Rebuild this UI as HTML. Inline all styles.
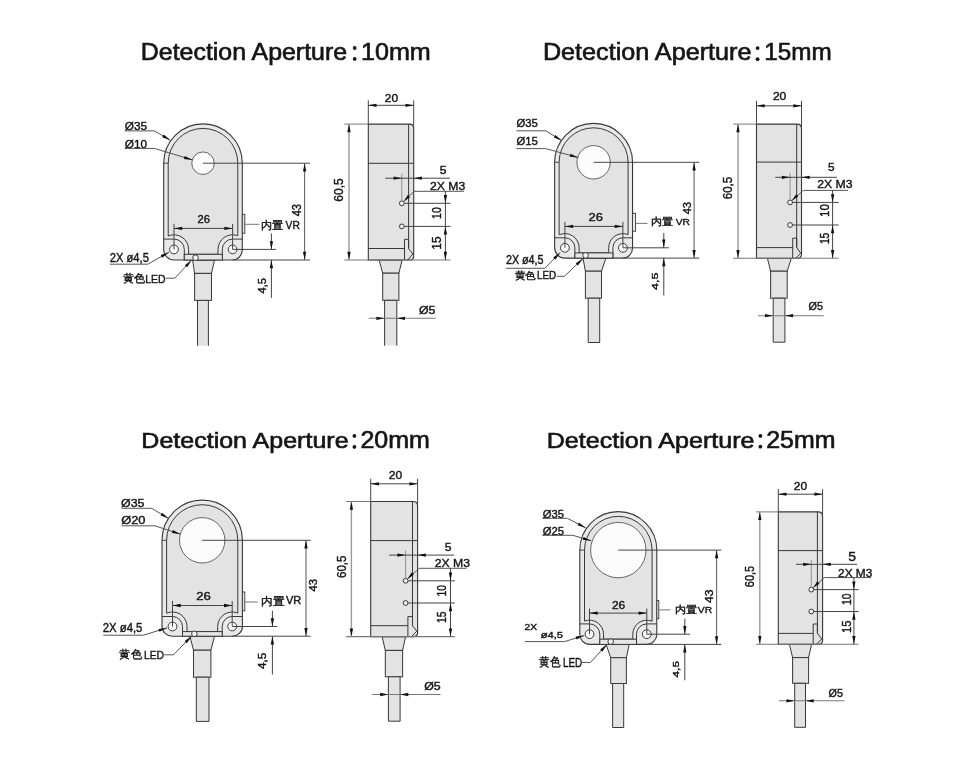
<!DOCTYPE html><html><head><meta charset="utf-8"><style>html,body{margin:0;padding:0;background:#fff;}svg{display:block;font-family:"Liberation Sans",sans-serif;will-change:transform;}</style></head><body>
<svg width="974" height="767" viewBox="0 0 974 767">
<rect width="974" height="767" fill="#fff"/>
<path d="M192.6,260.0 L194.6,273.4 L211.5,273.4 L214.5,260.0 Z" fill="#e3e3e3" stroke="#383838" stroke-width="1"/>
<rect x="194.6" y="273.4" width="16.90" height="27.00" fill="#e3e3e3" stroke="#383838" stroke-width="1"/>
<path d="M197.5,345.8 L197.5,300.4 L208.4,300.4 L208.4,345.8" fill="#e3e3e3" stroke="#383838" stroke-width="1"/>
<path d="M163.7,163.2 A39.3,39.3 0 0 1 242.3,163.2 L242.3,249.4 A9.70,10.60 0 0 1 232.6,260.0 L174.0,260.0 A10.30,10.60 0 0 1 163.7,249.4 Z" fill="#e9e9e9" stroke="#383838" stroke-width="1.1"/>
<path d="M168.2,163.2 A34.8,34.8 0 0 1 237.8,163.2 L237.8,235.76 A14.6,14.6 0 0 0 218.00,249.4 L218.00,254.3 L188.60,254.3 L188.60,249.4 A14.6,14.6 0 0 0 168.2,236.00 Z" fill="#e3e3e3" stroke="#383838" stroke-width="1"/>
<line x1="163.70" y1="239.10" x2="174.00" y2="239.10" stroke="#383838" stroke-width="1"/>
<line x1="232.60" y1="239.10" x2="242.30" y2="239.10" stroke="#383838" stroke-width="1"/>
<path d="M174.0,239.10 A10.3,10.3 0 0 1 184.30,249.4 L184.30,260.0" fill="none" stroke="#383838" stroke-width="1"/>
<path d="M232.6,239.10 A10.3,10.3 0 0 0 222.30,249.4 L222.30,260.0" fill="none" stroke="#383838" stroke-width="1"/>
<rect x="184.30" y="254.3" width="38.00" height="5.70" fill="#e6e6e6" stroke="#383838" stroke-width="1"/>
<circle cx="195.5" cy="257.7" r="2.8" fill="#f6f6f6" stroke="#383838" stroke-width="1"/>
<circle cx="203.0" cy="163.2" r="11.25" fill="#fcfcfc" stroke="#666" stroke-width="1"/>
<circle cx="174.0" cy="249.4" r="4.4" fill="#fbfbfb" stroke="#383838" stroke-width="1"/>
<circle cx="232.6" cy="249.4" r="4.4" fill="#fbfbfb" stroke="#383838" stroke-width="1"/>
<rect x="242.30" y="214.3" width="2.50" height="19.00" fill="#e8e8e8" stroke="#383838" stroke-width="0.9"/>
<line x1="174.00" y1="223.90" x2="174.00" y2="249.40" stroke="#444444" stroke-width="1.0"/>
<line x1="232.60" y1="223.90" x2="232.60" y2="249.40" stroke="#444444" stroke-width="1.0"/>
<line x1="174.00" y1="228.40" x2="232.60" y2="228.40" stroke="#444444" stroke-width="1.0"/>
<path d="M174.00,228.40 L182.20,226.75 L182.20,230.05 Z" fill="#111"/>
<path d="M232.60,228.40 L224.40,230.05 L224.40,226.75 Z" fill="#111"/>
<line x1="203.00" y1="163.20" x2="310.00" y2="163.20" stroke="#333" stroke-width="0.9"/>
<line x1="163.70" y1="163.20" x2="168.20" y2="163.20" stroke="#383838" stroke-width="0.9"/>
<line x1="232.60" y1="260.00" x2="310.00" y2="260.00" stroke="#444444" stroke-width="1.0"/>
<line x1="304.60" y1="163.20" x2="304.60" y2="260.00" stroke="#666" stroke-width="1.1"/>
<path d="M304.60,163.20 L306.25,171.40 L302.95,171.40 Z" fill="#111"/>
<path d="M304.60,260.00 L302.95,251.80 L306.25,251.80 Z" fill="#111"/>
<line x1="232.60" y1="249.40" x2="276.00" y2="249.40" stroke="#444444" stroke-width="1.0"/>
<line x1="271.40" y1="233.50" x2="271.40" y2="249.40" stroke="#444444" stroke-width="1.0"/>
<path d="M271.40,249.40 L269.75,241.20 L273.05,241.20 Z" fill="#111"/>
<line x1="271.40" y1="260.00" x2="271.40" y2="297.90" stroke="#444444" stroke-width="1.0"/>
<path d="M271.40,260.00 L273.05,268.20 L269.75,268.20 Z" fill="#111"/>
<line x1="244.80" y1="224.30" x2="259.30" y2="224.30" stroke="#777" stroke-width="1"/>
<polyline points="124.70,130.90 154.30,130.90 170.30,140.20" fill="none" stroke="#555" stroke-width="1"/>
<path d="M170.30,140.20 L162.17,137.27 L163.73,134.59 Z" fill="#111"/>
<polyline points="124.70,148.40 154.30,148.40 192.50,159.90" fill="none" stroke="#555" stroke-width="1"/>
<path d="M192.50,159.90 L183.91,158.93 L184.81,155.97 Z" fill="#111"/>
<polyline points="109.90,264.20 147.90,264.20 168.90,252.20" fill="none" stroke="#555" stroke-width="1"/>
<path d="M168.90,252.20 L162.29,257.76 L160.75,255.07 Z" fill="#111"/>
<polyline points="166.00,278.20 174.80,278.20 191.80,260.00" fill="none" stroke="#555" stroke-width="1"/>
<path d="M191.80,260.00 L187.13,267.27 L184.87,265.15 Z" fill="#111"/>
<path d="M379.1,260.0 L382.7,273.2 L398.9,273.2 L402.1,260.0 Z" fill="#e3e3e3" stroke="#383838" stroke-width="1"/>
<rect x="382.7" y="273.2" width="16.20" height="27.10" fill="#e3e3e3" stroke="#383838" stroke-width="1"/>
<path d="M384.6,345.6 L384.6,300.3 L396.8,300.3 L396.8,345.6" fill="#e3e3e3" stroke="#383838" stroke-width="1"/>
<path d="M368.3,124.1 L409.2,124.1 Q413.7,124.1 413.7,128.6 L413.7,256.0 Q413.7,260.0 409.7,260.0 L368.3,260.0 Z" fill="#e3e3e3" stroke="#383838" stroke-width="1.1"/>
<line x1="368.30" y1="163.30" x2="413.70" y2="163.30" stroke="#383838" stroke-width="1"/>
<line x1="408.60" y1="124.10" x2="408.60" y2="248.50" stroke="#383838" stroke-width="1"/>
<line x1="368.30" y1="248.50" x2="404.50" y2="248.50" stroke="#383838" stroke-width="1"/>
<path d="M404.5,260.0 L404.5,239.3 L408.6,239.3 L408.6,248.5 L412.90,254.00 L407.60,260.0" fill="none" stroke="#383838" stroke-width="1"/>
<circle cx="401.8" cy="203.3" r="2.4" fill="#f2f2f2" stroke="#383838" stroke-width="1"/>
<circle cx="401.8" cy="226.4" r="2.4" fill="#f2f2f2" stroke="#383838" stroke-width="1"/>
<line x1="401.80" y1="173.70" x2="401.80" y2="200.80" stroke="#888" stroke-width="0.9"/>
<line x1="368.30" y1="100.30" x2="368.30" y2="124.10" stroke="#444444" stroke-width="1.0"/>
<line x1="413.70" y1="100.30" x2="413.70" y2="127.10" stroke="#444444" stroke-width="1.0"/>
<line x1="368.30" y1="105.30" x2="413.70" y2="105.30" stroke="#444444" stroke-width="1.0"/>
<path d="M368.30,105.30 L376.50,103.65 L376.50,106.95 Z" fill="#111"/>
<path d="M413.70,105.30 L405.50,106.95 L405.50,103.65 Z" fill="#111"/>
<line x1="344.20" y1="124.10" x2="368.30" y2="124.10" stroke="#777" stroke-width="1"/>
<line x1="344.20" y1="260.00" x2="450.50" y2="260.00" stroke="#777" stroke-width="1.1"/>
<line x1="349.00" y1="124.10" x2="349.00" y2="260.00" stroke="#999" stroke-width="1.4"/>
<path d="M349.00,124.10 L350.65,132.30 L347.35,132.30 Z" fill="#111"/>
<path d="M349.00,260.00 L347.35,251.80 L350.65,251.80 Z" fill="#111"/>
<line x1="385.20" y1="178.20" x2="450.00" y2="178.20" stroke="#444444" stroke-width="1.0"/>
<path d="M401.80,178.20 L393.60,179.85 L393.60,176.55 Z" fill="#111"/>
<path d="M413.70,178.20 L421.90,176.55 L421.90,179.85 Z" fill="#111"/>
<polyline points="464.00,191.30 414.00,191.30 403.80,201.30" fill="none" stroke="#555" stroke-width="1"/>
<path d="M403.60,201.50 L407.77,195.07 L410.03,197.33 Z" fill="#111"/>
<line x1="404.30" y1="203.30" x2="450.50" y2="203.30" stroke="#444444" stroke-width="1.0"/>
<line x1="404.30" y1="226.40" x2="450.50" y2="226.40" stroke="#444444" stroke-width="1.0"/>
<line x1="445.40" y1="191.30" x2="445.40" y2="260.00" stroke="#444444" stroke-width="1.0"/>
<path d="M445.40,203.30 L443.75,195.10 L447.05,195.10 Z" fill="#111"/>
<path d="M445.40,226.40 L447.05,234.60 L443.75,234.60 Z" fill="#111"/>
<path d="M445.40,260.00 L443.75,251.80 L447.05,251.80 Z" fill="#111"/>
<line x1="368.70" y1="318.30" x2="435.60" y2="318.30" stroke="#777" stroke-width="1.1"/>
<path d="M384.60,318.30 L376.40,319.95 L376.40,316.65 Z" fill="#111"/>
<path d="M396.80,318.30 L405.00,316.65 L405.00,319.95 Z" fill="#111"/>
<circle cx="354.70" cy="48.00" r="1.9" fill="#151515"/>
<circle cx="354.70" cy="58.90" r="1.9" fill="#151515"/>
<text x="140.85" y="60.40" font-size="23.21" textLength="206.22" lengthAdjust="spacingAndGlyphs" fill="#151515" stroke="#151515" stroke-width="0.65">Detection Aperture</text>
<text x="361.00" y="60.20" font-size="23.64" textLength="69.79" lengthAdjust="spacingAndGlyphs" fill="#151515" stroke="#151515" stroke-width="0.65">10mm</text>
<text x="124.80" y="130.00" font-size="11.27" textLength="22.30" lengthAdjust="spacingAndGlyphs" fill="#151515" stroke="#151515" stroke-width="0.4">Ø35</text>
<text x="124.80" y="148.00" font-size="11.27" textLength="22.30" lengthAdjust="spacingAndGlyphs" fill="#151515" stroke="#151515" stroke-width="0.4">Ø10</text>
<text x="109.80" y="261.60" font-size="12.05" textLength="39.08" lengthAdjust="spacingAndGlyphs" fill="#151515" stroke="#151515" stroke-width="0.4">2X ø4,5</text>
<text x="122.70" y="282.00" font-size="11.43" textLength="22.31" lengthAdjust="spacingAndGlyphs" fill="#151515" stroke="#151515" stroke-width="0.4">黄色</text>
<text x="145.20" y="283.00" font-size="11.44" textLength="20.29" lengthAdjust="spacingAndGlyphs" fill="#151515" stroke="#151515" stroke-width="0.4">LED</text>
<text x="197.55" y="223.00" font-size="11.61" textLength="12.43" lengthAdjust="spacingAndGlyphs" fill="#151515" stroke="#151515" stroke-width="0.4">26</text>
<text x="261.05" y="229.00" font-size="11.40" textLength="22.30" lengthAdjust="spacingAndGlyphs" fill="#151515" stroke="#151515" stroke-width="0.4">内置</text>
<text x="285.55" y="229.00" font-size="11.34" textLength="14.33" lengthAdjust="spacingAndGlyphs" fill="#151515" stroke="#151515" stroke-width="0.4">VR</text>
<text transform="translate(301.00,216.30) rotate(-90)" x="0" y="0" font-size="12.91" textLength="12.34" lengthAdjust="spacingAndGlyphs" fill="#151515" stroke="#151515" stroke-width="0.4">43</text>
<text transform="translate(266.00,293.40) rotate(-90)" x="0" y="0" font-size="11.20" textLength="15.42" lengthAdjust="spacingAndGlyphs" fill="#151515" stroke="#151515" stroke-width="0.4">4,5</text>
<text x="384.75" y="102.00" font-size="11.65" textLength="13.31" lengthAdjust="spacingAndGlyphs" fill="#151515" stroke="#151515" stroke-width="0.4">20</text>
<text transform="translate(343.00,201.70) rotate(-90)" x="0" y="0" font-size="13.35" textLength="23.36" lengthAdjust="spacingAndGlyphs" fill="#151515" stroke="#151515" stroke-width="0.4">60,5</text>
<text x="439.80" y="174.00" font-size="10.38" textLength="6.75" lengthAdjust="spacingAndGlyphs" fill="#151515" stroke="#151515" stroke-width="0.4">5</text>
<text x="430.05" y="190.00" font-size="11.65" textLength="35.30" lengthAdjust="spacingAndGlyphs" fill="#151515" stroke="#151515" stroke-width="0.4">2X M3</text>
<text transform="translate(441.00,218.90) rotate(-90)" x="0" y="0" font-size="12.68" textLength="11.59" lengthAdjust="spacingAndGlyphs" fill="#151515" stroke="#151515" stroke-width="0.4">10</text>
<text transform="translate(441.00,249.65) rotate(-90)" x="0" y="0" font-size="12.68" textLength="13.27" lengthAdjust="spacingAndGlyphs" fill="#151515" stroke="#151515" stroke-width="0.4">15</text>
<text x="419.00" y="314.00" font-size="11.27" textLength="16.44" lengthAdjust="spacingAndGlyphs" fill="#151515" stroke="#151515" stroke-width="0.4">Ø5</text>
<path d="M583.0,258.1 L585.4,271.2 L601.5,271.2 L605.9,258.1 Z" fill="#e3e3e3" stroke="#383838" stroke-width="1"/>
<rect x="585.4" y="271.2" width="16.10" height="27.00" fill="#e3e3e3" stroke="#383838" stroke-width="1"/>
<path d="M588.2,342.5 L588.2,298.2 L599.7,298.2 L599.7,342.5 Z" fill="#e3e3e3" stroke="#383838" stroke-width="1"/>
<path d="M554.65,162.3 A38.95,38.95 0 0 1 632.5500000000001,162.3 L632.5500000000001,247.8 A9.65,10.30 0 0 1 622.9,258.1 L564.9,258.1 A10.25,10.30 0 0 1 554.65,247.8 Z" fill="#e9e9e9" stroke="#383838" stroke-width="1.1"/>
<path d="M559.1,162.3 A34.5,34.5 0 0 1 628.1,162.3 L628.1,234.59 A14.2,14.2 0 0 0 608.70,247.8 L608.70,252.9 L579.10,252.9 L579.10,247.8 A14.2,14.2 0 0 0 559.1,234.84 Z" fill="#e3e3e3" stroke="#383838" stroke-width="1"/>
<line x1="554.65" y1="237.80" x2="564.90" y2="237.80" stroke="#383838" stroke-width="1"/>
<line x1="622.90" y1="237.80" x2="632.55" y2="237.80" stroke="#383838" stroke-width="1"/>
<path d="M564.9,237.80 A10.0,10.0 0 0 1 574.90,247.8 L574.90,258.1" fill="none" stroke="#383838" stroke-width="1"/>
<path d="M622.9,237.80 A10.0,10.0 0 0 0 612.90,247.8 L612.90,258.1" fill="none" stroke="#383838" stroke-width="1"/>
<rect x="574.90" y="252.9" width="38.00" height="5.20" fill="#e6e6e6" stroke="#383838" stroke-width="1"/>
<circle cx="585.6" cy="255.4" r="2.8" fill="#f6f6f6" stroke="#383838" stroke-width="1"/>
<circle cx="593.6" cy="162.3" r="16.7" fill="#fcfcfc" stroke="#666" stroke-width="1"/>
<circle cx="564.9" cy="247.8" r="4.4" fill="#fbfbfb" stroke="#383838" stroke-width="1"/>
<circle cx="622.9" cy="247.8" r="4.4" fill="#fbfbfb" stroke="#383838" stroke-width="1"/>
<rect x="632.55" y="213.3" width="3.05" height="17.90" fill="#e8e8e8" stroke="#383838" stroke-width="0.9"/>
<line x1="564.90" y1="221.90" x2="564.90" y2="247.80" stroke="#444444" stroke-width="1.0"/>
<line x1="622.90" y1="221.90" x2="622.90" y2="247.80" stroke="#444444" stroke-width="1.0"/>
<line x1="564.90" y1="226.40" x2="622.90" y2="226.40" stroke="#444444" stroke-width="1.0"/>
<path d="M564.90,226.40 L573.10,224.75 L573.10,228.05 Z" fill="#111"/>
<path d="M622.90,226.40 L614.70,228.05 L614.70,224.75 Z" fill="#111"/>
<line x1="593.60" y1="162.30" x2="699.30" y2="162.30" stroke="#333" stroke-width="0.9"/>
<line x1="554.65" y1="162.30" x2="559.10" y2="162.30" stroke="#383838" stroke-width="0.9"/>
<line x1="622.90" y1="258.10" x2="699.30" y2="258.10" stroke="#444444" stroke-width="1.0"/>
<line x1="694.10" y1="162.30" x2="694.10" y2="258.10" stroke="#666" stroke-width="1.1"/>
<path d="M694.10,162.30 L695.75,170.50 L692.45,170.50 Z" fill="#111"/>
<path d="M694.10,258.10 L692.45,249.90 L695.75,249.90 Z" fill="#111"/>
<line x1="622.90" y1="247.80" x2="669.00" y2="247.80" stroke="#444444" stroke-width="1.0"/>
<line x1="663.80" y1="232.90" x2="663.80" y2="247.80" stroke="#444444" stroke-width="1.0"/>
<path d="M663.80,247.80 L662.15,239.60 L665.45,239.60 Z" fill="#111"/>
<line x1="663.80" y1="258.10" x2="663.80" y2="295.50" stroke="#444444" stroke-width="1.0"/>
<path d="M663.80,258.10 L665.45,266.30 L662.15,266.30 Z" fill="#111"/>
<line x1="635.60" y1="223.40" x2="647.50" y2="223.40" stroke="#777" stroke-width="1"/>
<polyline points="516.40,130.80 545.80,130.80 561.90,140.70" fill="none" stroke="#555" stroke-width="1"/>
<path d="M561.90,140.70 L553.85,137.57 L555.47,134.93 Z" fill="#111"/>
<polyline points="516.40,148.60 545.80,148.60 578.30,157.60" fill="none" stroke="#555" stroke-width="1"/>
<path d="M578.30,157.60 L569.69,156.83 L570.52,153.84 Z" fill="#111"/>
<polyline points="505.90,268.30 544.90,268.30 560.20,252.50" fill="none" stroke="#555" stroke-width="1"/>
<path d="M560.20,252.50 L555.40,259.68 L553.17,257.53 Z" fill="#111"/>
<polyline points="556.80,276.30 564.40,276.30 583.00,258.50" fill="none" stroke="#555" stroke-width="1"/>
<path d="M583.00,258.50 L577.93,265.50 L575.79,263.26 Z" fill="#111"/>
<path d="M767.4,258.2 L770.6,271.2 L787.2,271.2 L791.3,258.2 Z" fill="#e3e3e3" stroke="#383838" stroke-width="1"/>
<rect x="770.6" y="271.2" width="16.60" height="27.00" fill="#e3e3e3" stroke="#383838" stroke-width="1"/>
<path d="M773.2,342.2 L773.2,298.2 L784.9,298.2 L784.9,342.2 Z" fill="#e3e3e3" stroke="#383838" stroke-width="1"/>
<path d="M756.5,124.1 L797.0,124.1 Q801.5,124.1 801.5,128.6 L801.5,254.2 Q801.5,258.2 797.5,258.2 L756.5,258.2 Z" fill="#e3e3e3" stroke="#383838" stroke-width="1.1"/>
<line x1="756.50" y1="162.10" x2="801.50" y2="162.10" stroke="#383838" stroke-width="1"/>
<line x1="796.70" y1="124.10" x2="796.70" y2="247.60" stroke="#383838" stroke-width="1"/>
<line x1="756.50" y1="247.60" x2="792.70" y2="247.60" stroke="#383838" stroke-width="1"/>
<path d="M792.7,258.2 L792.7,238.2 L796.7,238.2 L796.7,247.6 L800.70,253.10 L795.70,258.2" fill="none" stroke="#383838" stroke-width="1"/>
<circle cx="790.1" cy="202.4" r="2.4" fill="#f2f2f2" stroke="#383838" stroke-width="1"/>
<circle cx="790.1" cy="225.0" r="2.4" fill="#f2f2f2" stroke="#383838" stroke-width="1"/>
<line x1="790.10" y1="172.80" x2="790.10" y2="199.90" stroke="#888" stroke-width="0.9"/>
<line x1="756.50" y1="100.80" x2="756.50" y2="124.10" stroke="#444444" stroke-width="1.0"/>
<line x1="801.50" y1="100.80" x2="801.50" y2="127.10" stroke="#444444" stroke-width="1.0"/>
<line x1="756.50" y1="105.80" x2="801.50" y2="105.80" stroke="#444444" stroke-width="1.0"/>
<path d="M756.50,105.80 L764.70,104.15 L764.70,107.45 Z" fill="#111"/>
<path d="M801.50,105.80 L793.30,107.45 L793.30,104.15 Z" fill="#111"/>
<line x1="733.00" y1="124.10" x2="756.50" y2="124.10" stroke="#777" stroke-width="1"/>
<line x1="733.00" y1="258.20" x2="838.60" y2="258.20" stroke="#777" stroke-width="1.1"/>
<line x1="738.00" y1="124.10" x2="738.00" y2="258.20" stroke="#999" stroke-width="1.4"/>
<path d="M738.00,124.10 L739.65,132.30 L736.35,132.30 Z" fill="#111"/>
<path d="M738.00,258.20 L736.35,250.00 L739.65,250.00 Z" fill="#111"/>
<line x1="775.20" y1="177.30" x2="837.00" y2="177.30" stroke="#444444" stroke-width="1.0"/>
<path d="M790.10,177.30 L781.90,178.95 L781.90,175.65 Z" fill="#111"/>
<path d="M801.50,177.30 L809.70,175.65 L809.70,178.95 Z" fill="#111"/>
<polyline points="848.00,190.40 803.40,190.40 792.10,200.40" fill="none" stroke="#555" stroke-width="1"/>
<path d="M791.90,200.60 L796.07,194.17 L798.33,196.43 Z" fill="#111"/>
<line x1="792.60" y1="202.40" x2="838.60" y2="202.40" stroke="#444444" stroke-width="1.0"/>
<line x1="792.60" y1="225.00" x2="838.60" y2="225.00" stroke="#444444" stroke-width="1.0"/>
<line x1="832.60" y1="190.40" x2="832.60" y2="258.20" stroke="#444444" stroke-width="1.0"/>
<path d="M832.60,202.40 L830.95,194.20 L834.25,194.20 Z" fill="#111"/>
<path d="M832.60,225.00 L834.25,233.20 L830.95,233.20 Z" fill="#111"/>
<path d="M832.60,258.20 L830.95,250.00 L834.25,250.00 Z" fill="#111"/>
<line x1="757.80" y1="315.70" x2="823.70" y2="315.70" stroke="#777" stroke-width="1.1"/>
<path d="M773.20,315.70 L765.00,317.35 L765.00,314.05 Z" fill="#111"/>
<path d="M784.90,315.70 L793.10,314.05 L793.10,317.35 Z" fill="#111"/>
<circle cx="757.60" cy="48.10" r="1.9" fill="#151515"/>
<circle cx="757.60" cy="59.20" r="1.9" fill="#151515"/>
<text x="542.95" y="60.40" font-size="23.21" textLength="208.44" lengthAdjust="spacingAndGlyphs" fill="#151515" stroke="#151515" stroke-width="0.65">Detection Aperture</text>
<text x="764.30" y="60.20" font-size="23.64" textLength="67.46" lengthAdjust="spacingAndGlyphs" fill="#151515" stroke="#151515" stroke-width="0.65">15mm</text>
<text x="516.55" y="127.00" font-size="11.27" textLength="21.34" lengthAdjust="spacingAndGlyphs" fill="#151515" stroke="#151515" stroke-width="0.4">Ø35</text>
<text x="516.55" y="145.00" font-size="11.65" textLength="21.34" lengthAdjust="spacingAndGlyphs" fill="#151515" stroke="#151515" stroke-width="0.4">Ø15</text>
<text x="505.90" y="263.60" font-size="12.02" textLength="37.71" lengthAdjust="spacingAndGlyphs" fill="#151515" stroke="#151515" stroke-width="0.4">2X ø4,5</text>
<text x="514.50" y="279.00" font-size="10.18" textLength="21.23" lengthAdjust="spacingAndGlyphs" fill="#151515" stroke="#151515" stroke-width="0.4">黄色</text>
<text x="536.90" y="279.00" font-size="11.27" textLength="19.24" lengthAdjust="spacingAndGlyphs" fill="#151515" stroke="#151515" stroke-width="0.4">LED</text>
<text x="588.45" y="221.00" font-size="11.27" textLength="14.39" lengthAdjust="spacingAndGlyphs" fill="#151515" stroke="#151515" stroke-width="0.4">26</text>
<text x="651.40" y="225.00" font-size="10.18" textLength="22.20" lengthAdjust="spacingAndGlyphs" fill="#151515" stroke="#151515" stroke-width="0.4">内置</text>
<text x="675.80" y="225.00" font-size="9.94" textLength="14.23" lengthAdjust="spacingAndGlyphs" fill="#151515" stroke="#151515" stroke-width="0.4">VR</text>
<text transform="translate(691.00,214.35) rotate(-90)" x="0" y="0" font-size="11.65" textLength="12.34" lengthAdjust="spacingAndGlyphs" fill="#151515" stroke="#151515" stroke-width="0.4">43</text>
<text transform="translate(658.00,289.95) rotate(-90)" x="0" y="0" font-size="9.57" textLength="17.28" lengthAdjust="spacingAndGlyphs" fill="#151515" stroke="#151515" stroke-width="0.4">4,5</text>
<text x="772.90" y="100.00" font-size="11.53" textLength="13.42" lengthAdjust="spacingAndGlyphs" fill="#151515" stroke="#151515" stroke-width="0.4">20</text>
<text transform="translate(732.00,199.20) rotate(-90)" x="0" y="0" font-size="12.10" textLength="22.34" lengthAdjust="spacingAndGlyphs" fill="#151515" stroke="#151515" stroke-width="0.4">60,5</text>
<text x="827.95" y="171.00" font-size="11.65" textLength="6.55" lengthAdjust="spacingAndGlyphs" fill="#151515" stroke="#151515" stroke-width="0.4">5</text>
<text x="817.20" y="188.00" font-size="11.65" textLength="35.32" lengthAdjust="spacingAndGlyphs" fill="#151515" stroke="#151515" stroke-width="0.4">2X M3</text>
<text transform="translate(829.00,217.00) rotate(-90)" x="0" y="0" font-size="12.72" textLength="12.79" lengthAdjust="spacingAndGlyphs" fill="#151515" stroke="#151515" stroke-width="0.4">10</text>
<text transform="translate(829.00,244.10) rotate(-90)" x="0" y="0" font-size="12.72" textLength="11.37" lengthAdjust="spacingAndGlyphs" fill="#151515" stroke="#151515" stroke-width="0.4">15</text>
<text x="808.50" y="310.00" font-size="11.27" textLength="14.42" lengthAdjust="spacingAndGlyphs" fill="#151515" stroke="#151515" stroke-width="0.4">Ø5</text>
<path d="M189.9,636.2 L193.5,650.2 L210.9,650.2 L214.5,636.2 Z" fill="#e3e3e3" stroke="#383838" stroke-width="1"/>
<rect x="193.5" y="650.2" width="17.40" height="27.00" fill="#e3e3e3" stroke="#383838" stroke-width="1"/>
<path d="M196.3,721.4 L196.3,677.2 L209.0,677.2 L209.0,721.4 Z" fill="#e3e3e3" stroke="#383838" stroke-width="1"/>
<path d="M162.0,540.3 A40.2,40.2 0 0 1 242.39999999999998,540.3 L242.39999999999998,626.5 A10.20,9.70 0 0 1 232.2,636.2 L172.5,636.2 A10.50,9.70 0 0 1 162.0,626.5 Z" fill="#e9e9e9" stroke="#383838" stroke-width="1.1"/>
<path d="M166.6,540.3 A35.6,35.6 0 0 1 237.79999999999998,540.3 L237.79999999999998,613.13 A14.5,14.5 0 0 0 217.70,626.5 L217.70,631.6 L187.00,631.6 L187.00,626.5 A14.5,14.5 0 0 0 166.6,613.25 Z" fill="#e3e3e3" stroke="#383838" stroke-width="1"/>
<line x1="162.00" y1="616.50" x2="172.50" y2="616.50" stroke="#383838" stroke-width="1"/>
<line x1="232.20" y1="616.50" x2="242.40" y2="616.50" stroke="#383838" stroke-width="1"/>
<path d="M172.5,616.50 A10.0,10.0 0 0 1 182.50,626.5 L182.50,636.2" fill="none" stroke="#383838" stroke-width="1"/>
<path d="M232.2,616.50 A10.0,10.0 0 0 0 222.20,626.5 L222.20,636.2" fill="none" stroke="#383838" stroke-width="1"/>
<rect x="182.50" y="631.6" width="39.70" height="4.60" fill="#e6e6e6" stroke="#383838" stroke-width="1"/>
<circle cx="194.4" cy="633.8" r="2.8" fill="#f6f6f6" stroke="#383838" stroke-width="1"/>
<circle cx="202.2" cy="540.3" r="22.7" fill="#fcfcfc" stroke="#666" stroke-width="1"/>
<circle cx="172.5" cy="626.5" r="4.4" fill="#fbfbfb" stroke="#383838" stroke-width="1"/>
<circle cx="232.2" cy="626.5" r="4.4" fill="#fbfbfb" stroke="#383838" stroke-width="1"/>
<rect x="242.40" y="592.0" width="2.40" height="18.80" fill="#e8e8e8" stroke="#383838" stroke-width="0.9"/>
<line x1="172.50" y1="601.00" x2="172.50" y2="626.50" stroke="#444444" stroke-width="1.0"/>
<line x1="232.20" y1="601.00" x2="232.20" y2="626.50" stroke="#444444" stroke-width="1.0"/>
<line x1="172.50" y1="605.50" x2="232.20" y2="605.50" stroke="#444444" stroke-width="1.0"/>
<path d="M172.50,605.50 L180.70,603.85 L180.70,607.15 Z" fill="#111"/>
<path d="M232.20,605.50 L224.00,607.15 L224.00,603.85 Z" fill="#111"/>
<line x1="202.20" y1="540.30" x2="310.60" y2="540.30" stroke="#333" stroke-width="0.9"/>
<line x1="162.00" y1="540.30" x2="166.60" y2="540.30" stroke="#383838" stroke-width="0.9"/>
<line x1="232.20" y1="636.20" x2="310.60" y2="636.20" stroke="#444444" stroke-width="1.0"/>
<line x1="306.00" y1="540.30" x2="306.00" y2="636.20" stroke="#666" stroke-width="1.1"/>
<path d="M306.00,540.30 L307.65,548.50 L304.35,548.50 Z" fill="#111"/>
<path d="M306.00,636.20 L304.35,628.00 L307.65,628.00 Z" fill="#111"/>
<line x1="232.20" y1="626.50" x2="277.20" y2="626.50" stroke="#444444" stroke-width="1.0"/>
<line x1="272.40" y1="610.80" x2="272.40" y2="626.50" stroke="#444444" stroke-width="1.0"/>
<path d="M272.40,626.50 L270.75,618.30 L274.05,618.30 Z" fill="#111"/>
<line x1="272.40" y1="636.20" x2="272.40" y2="674.50" stroke="#444444" stroke-width="1.0"/>
<path d="M272.40,636.20 L274.05,644.40 L270.75,644.40 Z" fill="#111"/>
<line x1="244.80" y1="602.00" x2="257.70" y2="602.00" stroke="#777" stroke-width="1"/>
<polyline points="121.50,508.30 151.70,508.30 168.60,518.60" fill="none" stroke="#555" stroke-width="1"/>
<path d="M168.60,518.60 L160.54,515.50 L162.15,512.85 Z" fill="#111"/>
<polyline points="121.50,525.80 155.00,525.80 180.50,534.20" fill="none" stroke="#555" stroke-width="1"/>
<path d="M180.50,534.20 L171.94,533.01 L172.91,530.07 Z" fill="#111"/>
<polyline points="103.20,635.20 143.30,635.20 167.10,627.90" fill="none" stroke="#555" stroke-width="1"/>
<path d="M167.10,627.90 L159.43,631.87 L158.52,628.91 Z" fill="#111"/>
<polyline points="164.30,654.80 173.50,654.80 191.70,636.00" fill="none" stroke="#555" stroke-width="1"/>
<path d="M191.70,636.00 L186.90,643.19 L184.67,641.03 Z" fill="#111"/>
<path d="M382.1,636.6 L385.3,650.4 L402.6,650.4 L405.6,636.6 Z" fill="#e3e3e3" stroke="#383838" stroke-width="1"/>
<rect x="385.3" y="650.4" width="17.30" height="26.40" fill="#e3e3e3" stroke="#383838" stroke-width="1"/>
<path d="M388.4,721.2 L388.4,676.8 L400.1,676.8 L400.1,721.2 Z" fill="#e3e3e3" stroke="#383838" stroke-width="1"/>
<path d="M370.7,501.5 L413.1,501.5 Q417.6,501.5 417.6,506.0 L417.6,632.6 Q417.6,636.6 413.6,636.6 L370.7,636.6 Z" fill="#e3e3e3" stroke="#383838" stroke-width="1.1"/>
<line x1="370.70" y1="540.60" x2="417.60" y2="540.60" stroke="#383838" stroke-width="1"/>
<line x1="412.50" y1="501.50" x2="412.50" y2="625.70" stroke="#383838" stroke-width="1"/>
<line x1="370.70" y1="625.70" x2="407.90" y2="625.70" stroke="#383838" stroke-width="1"/>
<path d="M407.9,636.6 L407.9,616.6 L412.5,616.6 L412.5,625.7 L416.80,631.20 L411.50,636.6" fill="none" stroke="#383838" stroke-width="1"/>
<circle cx="405.6" cy="580.8" r="2.4" fill="#f2f2f2" stroke="#383838" stroke-width="1"/>
<circle cx="405.6" cy="603.0" r="2.4" fill="#f2f2f2" stroke="#383838" stroke-width="1"/>
<line x1="405.60" y1="550.60" x2="405.60" y2="578.30" stroke="#888" stroke-width="0.9"/>
<line x1="370.70" y1="478.80" x2="370.70" y2="501.50" stroke="#444444" stroke-width="1.0"/>
<line x1="417.60" y1="478.80" x2="417.60" y2="504.50" stroke="#444444" stroke-width="1.0"/>
<line x1="370.70" y1="483.80" x2="417.60" y2="483.80" stroke="#444444" stroke-width="1.0"/>
<path d="M370.70,483.80 L378.90,482.15 L378.90,485.45 Z" fill="#111"/>
<path d="M417.60,483.80 L409.40,485.45 L409.40,482.15 Z" fill="#111"/>
<line x1="346.10" y1="501.50" x2="370.70" y2="501.50" stroke="#777" stroke-width="1"/>
<line x1="346.10" y1="636.60" x2="454.80" y2="636.60" stroke="#777" stroke-width="1.1"/>
<line x1="351.40" y1="501.50" x2="351.40" y2="636.60" stroke="#999" stroke-width="1.4"/>
<path d="M351.40,501.50 L353.05,509.70 L349.75,509.70 Z" fill="#111"/>
<path d="M351.40,636.60 L349.75,628.40 L353.05,628.40 Z" fill="#111"/>
<line x1="389.10" y1="555.10" x2="454.00" y2="555.10" stroke="#444444" stroke-width="1.0"/>
<path d="M405.60,555.10 L397.40,556.75 L397.40,553.45 Z" fill="#111"/>
<path d="M417.60,555.10 L425.80,553.45 L425.80,556.75 Z" fill="#111"/>
<polyline points="466.60,568.30 419.20,568.30 407.60,578.80" fill="none" stroke="#555" stroke-width="1"/>
<path d="M407.40,579.00 L411.57,572.57 L413.83,574.83 Z" fill="#111"/>
<line x1="408.10" y1="580.80" x2="454.80" y2="580.80" stroke="#444444" stroke-width="1.0"/>
<line x1="408.10" y1="603.00" x2="454.80" y2="603.00" stroke="#444444" stroke-width="1.0"/>
<line x1="450.50" y1="568.30" x2="450.50" y2="636.60" stroke="#444444" stroke-width="1.0"/>
<path d="M450.50,580.80 L448.85,572.60 L452.15,572.60 Z" fill="#111"/>
<path d="M450.50,603.00 L452.15,611.20 L448.85,611.20 Z" fill="#111"/>
<path d="M450.50,636.60 L448.85,628.40 L452.15,628.40 Z" fill="#111"/>
<line x1="371.90" y1="694.50" x2="440.50" y2="694.50" stroke="#777" stroke-width="1.1"/>
<path d="M388.40,694.50 L380.20,696.15 L380.20,692.85 Z" fill="#111"/>
<path d="M400.10,694.50 L408.30,692.85 L408.30,696.15 Z" fill="#111"/>
<circle cx="354.40" cy="435.90" r="1.9" fill="#151515"/>
<circle cx="354.40" cy="446.90" r="1.9" fill="#151515"/>
<text x="141.35" y="448.40" font-size="22.42" textLength="207.22" lengthAdjust="spacingAndGlyphs" fill="#151515" stroke="#151515" stroke-width="0.65">Detection Aperture</text>
<text x="360.45" y="448.20" font-size="23.32" textLength="69.47" lengthAdjust="spacingAndGlyphs" fill="#151515" stroke="#151515" stroke-width="0.65">20mm</text>
<text x="121.10" y="507.00" font-size="11.67" textLength="23.41" lengthAdjust="spacingAndGlyphs" fill="#151515" stroke="#151515" stroke-width="0.4">Ø35</text>
<text x="121.20" y="524.00" font-size="11.67" textLength="24.37" lengthAdjust="spacingAndGlyphs" fill="#151515" stroke="#151515" stroke-width="0.4">Ø20</text>
<text x="102.75" y="631.60" font-size="12.37" textLength="39.68" lengthAdjust="spacingAndGlyphs" fill="#151515" stroke="#151515" stroke-width="0.4">2X ø4,5</text>
<text x="119.40" y="658.00" font-size="11.47" textLength="22.35" lengthAdjust="spacingAndGlyphs" fill="#151515" stroke="#151515" stroke-width="0.4">黄色</text>
<text x="143.90" y="659.00" font-size="11.46" textLength="20.24" lengthAdjust="spacingAndGlyphs" fill="#151515" stroke="#151515" stroke-width="0.4">LED</text>
<text x="196.30" y="600.00" font-size="11.61" textLength="14.57" lengthAdjust="spacingAndGlyphs" fill="#151515" stroke="#151515" stroke-width="0.4">26</text>
<text x="261.45" y="605.00" font-size="11.35" textLength="23.32" lengthAdjust="spacingAndGlyphs" fill="#151515" stroke="#151515" stroke-width="0.4">内置</text>
<text x="286.00" y="604.00" font-size="10.37" textLength="15.26" lengthAdjust="spacingAndGlyphs" fill="#151515" stroke="#151515" stroke-width="0.4">VR</text>
<text transform="translate(317.00,591.55) rotate(-90)" x="0" y="0" font-size="11.65" textLength="12.39" lengthAdjust="spacingAndGlyphs" fill="#151515" stroke="#151515" stroke-width="0.4">43</text>
<text transform="translate(266.00,668.95) rotate(-90)" x="0" y="0" font-size="10.34" textLength="16.29" lengthAdjust="spacingAndGlyphs" fill="#151515" stroke="#151515" stroke-width="0.4">4,5</text>
<text x="388.80" y="479.00" font-size="11.53" textLength="13.37" lengthAdjust="spacingAndGlyphs" fill="#151515" stroke="#151515" stroke-width="0.4">20</text>
<text transform="translate(346.00,578.00) rotate(-90)" x="0" y="0" font-size="12.23" textLength="22.32" lengthAdjust="spacingAndGlyphs" fill="#151515" stroke="#151515" stroke-width="0.4">60,5</text>
<text x="444.80" y="551.00" font-size="11.65" textLength="6.75" lengthAdjust="spacingAndGlyphs" fill="#151515" stroke="#151515" stroke-width="0.4">5</text>
<text x="434.80" y="567.00" font-size="11.65" textLength="35.26" lengthAdjust="spacingAndGlyphs" fill="#151515" stroke="#151515" stroke-width="0.4">2X M3</text>
<text transform="translate(446.00,596.50) rotate(-90)" x="0" y="0" font-size="12.83" textLength="11.48" lengthAdjust="spacingAndGlyphs" fill="#151515" stroke="#151515" stroke-width="0.4">10</text>
<text transform="translate(446.00,623.10) rotate(-90)" x="0" y="0" font-size="12.83" textLength="11.47" lengthAdjust="spacingAndGlyphs" fill="#151515" stroke="#151515" stroke-width="0.4">15</text>
<text x="424.20" y="690.00" font-size="11.27" textLength="16.48" lengthAdjust="spacingAndGlyphs" fill="#151515" stroke="#151515" stroke-width="0.4">Ø5</text>
<path d="M606.1,644.4 L610.7,657.7 L626.4,657.7 L629.2,644.4 Z" fill="#e3e3e3" stroke="#383838" stroke-width="1"/>
<rect x="610.7" y="657.7" width="15.70" height="25.80" fill="#e3e3e3" stroke="#383838" stroke-width="1"/>
<path d="M612.6,727.5 L612.6,683.5 L623.7,683.5 L623.7,727.5 Z" fill="#e3e3e3" stroke="#383838" stroke-width="1"/>
<path d="M579.8,550.1 A38.5,38.5 0 0 1 656.8,550.1 L656.8,634.2 A10.00,10.20 0 0 1 646.8,644.4 L589.5,644.4 A9.70,10.20 0 0 1 579.8,634.2 Z" fill="#e9e9e9" stroke="#383838" stroke-width="1.1"/>
<path d="M584.5,550.1 A33.8,33.8 0 0 1 652.0999999999999,550.1 L652.0999999999999,621.24 A14.0,14.0 0 0 0 632.80,634.2 L632.80,639.2 L603.50,639.2 L603.50,634.2 A14.0,14.0 0 0 0 584.5,621.12 Z" fill="#e3e3e3" stroke="#383838" stroke-width="1"/>
<line x1="579.80" y1="623.90" x2="589.50" y2="623.90" stroke="#383838" stroke-width="1"/>
<line x1="646.80" y1="623.90" x2="656.80" y2="623.90" stroke="#383838" stroke-width="1"/>
<path d="M589.5,623.90 A10.3,10.3 0 0 1 599.80,634.2 L599.80,644.4" fill="none" stroke="#383838" stroke-width="1"/>
<path d="M646.8,623.90 A10.3,10.3 0 0 0 636.50,634.2 L636.50,644.4" fill="none" stroke="#383838" stroke-width="1"/>
<rect x="599.80" y="639.2" width="36.70" height="5.20" fill="#e6e6e6" stroke="#383838" stroke-width="1"/>
<circle cx="610.7" cy="641.6" r="2.8" fill="#f6f6f6" stroke="#383838" stroke-width="1"/>
<circle cx="618.3" cy="550.1" r="27.7" fill="#fcfcfc" stroke="#666" stroke-width="1"/>
<circle cx="589.5" cy="634.2" r="4.4" fill="#fbfbfb" stroke="#383838" stroke-width="1"/>
<circle cx="646.8" cy="634.2" r="4.4" fill="#fbfbfb" stroke="#383838" stroke-width="1"/>
<rect x="656.80" y="600.5" width="2.00" height="18.20" fill="#e8e8e8" stroke="#383838" stroke-width="0.9"/>
<line x1="589.50" y1="608.60" x2="589.50" y2="634.20" stroke="#444444" stroke-width="1.0"/>
<line x1="646.80" y1="608.60" x2="646.80" y2="634.20" stroke="#444444" stroke-width="1.0"/>
<line x1="589.50" y1="613.10" x2="646.80" y2="613.10" stroke="#444444" stroke-width="1.0"/>
<path d="M589.50,613.10 L597.70,611.45 L597.70,614.75 Z" fill="#111"/>
<path d="M646.80,613.10 L638.60,614.75 L638.60,611.45 Z" fill="#111"/>
<line x1="618.30" y1="550.10" x2="721.40" y2="550.10" stroke="#333" stroke-width="0.9"/>
<line x1="579.80" y1="550.10" x2="584.50" y2="550.10" stroke="#383838" stroke-width="0.9"/>
<line x1="646.80" y1="644.40" x2="721.40" y2="644.40" stroke="#444444" stroke-width="1.0"/>
<line x1="716.60" y1="550.10" x2="716.60" y2="644.40" stroke="#666" stroke-width="1.1"/>
<path d="M716.60,550.10 L718.25,558.30 L714.95,558.30 Z" fill="#111"/>
<path d="M716.60,644.40 L714.95,636.20 L718.25,636.20 Z" fill="#111"/>
<line x1="646.80" y1="634.20" x2="690.00" y2="634.20" stroke="#444444" stroke-width="1.0"/>
<line x1="684.80" y1="618.70" x2="684.80" y2="634.20" stroke="#444444" stroke-width="1.0"/>
<path d="M684.80,634.20 L683.15,626.00 L686.45,626.00 Z" fill="#111"/>
<line x1="684.80" y1="644.40" x2="684.80" y2="680.30" stroke="#444444" stroke-width="1.0"/>
<path d="M684.80,644.40 L686.45,652.60 L683.15,652.60 Z" fill="#111"/>
<line x1="658.80" y1="609.90" x2="670.40" y2="609.90" stroke="#777" stroke-width="1"/>
<polyline points="542.30,518.30 567.30,518.30 585.80,527.90" fill="none" stroke="#555" stroke-width="1"/>
<path d="M585.80,527.90 L577.54,525.36 L578.97,522.61 Z" fill="#111"/>
<polyline points="542.30,535.30 572.80,535.30 591.30,540.80" fill="none" stroke="#555" stroke-width="1"/>
<path d="M591.30,540.80 L582.71,539.86 L583.59,536.89 Z" fill="#111"/>
<polyline points="524.80,641.60 564.50,641.60 584.20,635.60" fill="none" stroke="#555" stroke-width="1"/>
<path d="M584.20,635.60 L576.52,639.56 L575.62,636.59 Z" fill="#111"/>
<polyline points="582.10,662.50 590.40,662.50 607.00,644.40" fill="none" stroke="#555" stroke-width="1"/>
<path d="M607.00,644.40 L602.40,651.71 L600.11,649.62 Z" fill="#111"/>
<path d="M789.4,644.3 L792.6,657.6 L808.6,657.6 L811.6,644.3 Z" fill="#e3e3e3" stroke="#383838" stroke-width="1"/>
<rect x="792.6" y="657.6" width="16.00" height="25.70" fill="#e3e3e3" stroke="#383838" stroke-width="1"/>
<path d="M794.7,727.3 L794.7,683.3 L805.5,683.3 L805.5,727.3 Z" fill="#e3e3e3" stroke="#383838" stroke-width="1"/>
<path d="M778.3,511.9 L818.1,511.9 Q822.6,511.9 822.6,516.4 L822.6,640.3 Q822.6,644.3 818.6,644.3 L778.3,644.3 Z" fill="#e3e3e3" stroke="#383838" stroke-width="1.1"/>
<line x1="778.30" y1="550.60" x2="822.60" y2="550.60" stroke="#383838" stroke-width="1"/>
<line x1="817.40" y1="511.90" x2="817.40" y2="633.40" stroke="#383838" stroke-width="1"/>
<line x1="778.30" y1="633.40" x2="813.20" y2="633.40" stroke="#383838" stroke-width="1"/>
<path d="M813.2,644.3 L813.2,624.0 L817.4,624.0 L817.4,633.4 L821.80,638.90 L816.40,644.3" fill="none" stroke="#383838" stroke-width="1"/>
<circle cx="811.3" cy="589.6" r="2.4" fill="#f2f2f2" stroke="#383838" stroke-width="1"/>
<circle cx="811.3" cy="611.5" r="2.4" fill="#f2f2f2" stroke="#383838" stroke-width="1"/>
<line x1="811.30" y1="559.80" x2="811.30" y2="587.10" stroke="#888" stroke-width="0.9"/>
<line x1="778.30" y1="489.20" x2="778.30" y2="511.90" stroke="#444444" stroke-width="1.0"/>
<line x1="822.60" y1="489.20" x2="822.60" y2="514.90" stroke="#444444" stroke-width="1.0"/>
<line x1="778.30" y1="494.20" x2="822.60" y2="494.20" stroke="#444444" stroke-width="1.0"/>
<path d="M778.30,494.20 L786.50,492.55 L786.50,495.85 Z" fill="#111"/>
<path d="M822.60,494.20 L814.40,495.85 L814.40,492.55 Z" fill="#111"/>
<line x1="756.10" y1="511.90" x2="778.30" y2="511.90" stroke="#777" stroke-width="1"/>
<line x1="756.10" y1="644.30" x2="858.60" y2="644.30" stroke="#777" stroke-width="1.1"/>
<line x1="759.80" y1="511.90" x2="759.80" y2="644.30" stroke="#999" stroke-width="1.4"/>
<path d="M759.80,511.90 L761.45,520.10 L758.15,520.10 Z" fill="#111"/>
<path d="M759.80,644.30 L758.15,636.10 L761.45,636.10 Z" fill="#111"/>
<line x1="796.00" y1="564.30" x2="857.00" y2="564.30" stroke="#444444" stroke-width="1.0"/>
<path d="M811.30,564.30 L803.10,565.95 L803.10,562.65 Z" fill="#111"/>
<path d="M822.60,564.30 L830.80,562.65 L830.80,565.95 Z" fill="#111"/>
<polyline points="871.10,577.60 824.20,577.60 813.30,587.60" fill="none" stroke="#555" stroke-width="1"/>
<path d="M813.10,587.80 L817.27,581.37 L819.53,583.63 Z" fill="#111"/>
<line x1="813.80" y1="589.60" x2="858.60" y2="589.60" stroke="#444444" stroke-width="1.0"/>
<line x1="813.80" y1="611.50" x2="858.60" y2="611.50" stroke="#444444" stroke-width="1.0"/>
<line x1="853.90" y1="577.60" x2="853.90" y2="644.30" stroke="#444444" stroke-width="1.0"/>
<path d="M853.90,589.60 L852.25,581.40 L855.55,581.40 Z" fill="#111"/>
<path d="M853.90,611.50 L855.55,619.70 L852.25,619.70 Z" fill="#111"/>
<path d="M853.90,644.30 L852.25,636.10 L855.55,636.10 Z" fill="#111"/>
<line x1="779.00" y1="700.80" x2="844.30" y2="700.80" stroke="#777" stroke-width="1.1"/>
<path d="M794.70,700.80 L786.50,702.45 L786.50,699.15 Z" fill="#111"/>
<path d="M805.50,700.80 L813.70,699.15 L813.70,702.45 Z" fill="#111"/>
<circle cx="760.40" cy="435.90" r="1.9" fill="#151515"/>
<circle cx="760.40" cy="446.70" r="1.9" fill="#151515"/>
<text x="546.75" y="448.40" font-size="22.42" textLength="207.82" lengthAdjust="spacingAndGlyphs" fill="#151515" stroke="#151515" stroke-width="0.65">Detection Aperture</text>
<text x="766.25" y="448.20" font-size="23.64" textLength="69.24" lengthAdjust="spacingAndGlyphs" fill="#151515" stroke="#151515" stroke-width="0.65">25mm</text>
<text x="542.75" y="518.00" font-size="11.53" textLength="21.27" lengthAdjust="spacingAndGlyphs" fill="#151515" stroke="#151515" stroke-width="0.4">Ø35</text>
<text x="542.75" y="535.00" font-size="11.27" textLength="21.27" lengthAdjust="spacingAndGlyphs" fill="#151515" stroke="#151515" stroke-width="0.4">Ø25</text>
<text x="524.45" y="630.00" font-size="9.85" textLength="12.54" lengthAdjust="spacingAndGlyphs" fill="#151515" stroke="#151515" stroke-width="0.4">2X</text>
<text x="540.80" y="638.00" font-size="9.69" textLength="22.25" lengthAdjust="spacingAndGlyphs" fill="#151515" stroke="#151515" stroke-width="0.4">ø4,5</text>
<text x="539.45" y="666.00" font-size="11.53" textLength="21.21" lengthAdjust="spacingAndGlyphs" fill="#151515" stroke="#151515" stroke-width="0.4">黄色</text>
<text x="562.90" y="667.00" font-size="12.81" textLength="19.24" lengthAdjust="spacingAndGlyphs" fill="#151515" stroke="#151515" stroke-width="0.4">LED</text>
<text x="611.95" y="609.00" font-size="11.41" textLength="13.35" lengthAdjust="spacingAndGlyphs" fill="#151515" stroke="#151515" stroke-width="0.4">26</text>
<text x="674.50" y="613.00" font-size="10.18" textLength="22.25" lengthAdjust="spacingAndGlyphs" fill="#151515" stroke="#151515" stroke-width="0.4">内置</text>
<text x="697.85" y="613.00" font-size="9.94" textLength="14.36" lengthAdjust="spacingAndGlyphs" fill="#151515" stroke="#151515" stroke-width="0.4">VR</text>
<text transform="translate(713.00,602.90) rotate(-90)" x="0" y="0" font-size="11.65" textLength="13.42" lengthAdjust="spacingAndGlyphs" fill="#151515" stroke="#151515" stroke-width="0.4">43</text>
<text transform="translate(679.00,677.45) rotate(-90)" x="0" y="0" font-size="9.95" textLength="16.44" lengthAdjust="spacingAndGlyphs" fill="#151515" stroke="#151515" stroke-width="0.4">4,5</text>
<text x="793.75" y="490.00" font-size="11.41" textLength="13.31" lengthAdjust="spacingAndGlyphs" fill="#151515" stroke="#151515" stroke-width="0.4">20</text>
<text transform="translate(754.00,587.20) rotate(-90)" x="0" y="0" font-size="11.86" textLength="21.30" lengthAdjust="spacingAndGlyphs" fill="#151515" stroke="#151515" stroke-width="0.4">60,5</text>
<text x="848.25" y="561.00" font-size="12.72" textLength="7.73" lengthAdjust="spacingAndGlyphs" fill="#151515" stroke="#151515" stroke-width="0.4">5</text>
<text x="838.05" y="577.00" font-size="11.65" textLength="34.33" lengthAdjust="spacingAndGlyphs" fill="#151515" stroke="#151515" stroke-width="0.4">2X M3</text>
<text transform="translate(851.00,605.10) rotate(-90)" x="0" y="0" font-size="13.02" textLength="11.47" lengthAdjust="spacingAndGlyphs" fill="#151515" stroke="#151515" stroke-width="0.4">10</text>
<text transform="translate(851.00,633.00) rotate(-90)" x="0" y="0" font-size="13.02" textLength="12.44" lengthAdjust="spacingAndGlyphs" fill="#151515" stroke="#151515" stroke-width="0.4">15</text>
<text x="828.50" y="697.00" font-size="11.65" textLength="14.42" lengthAdjust="spacingAndGlyphs" fill="#151515" stroke="#151515" stroke-width="0.4">Ø5</text>
</svg></body></html>
